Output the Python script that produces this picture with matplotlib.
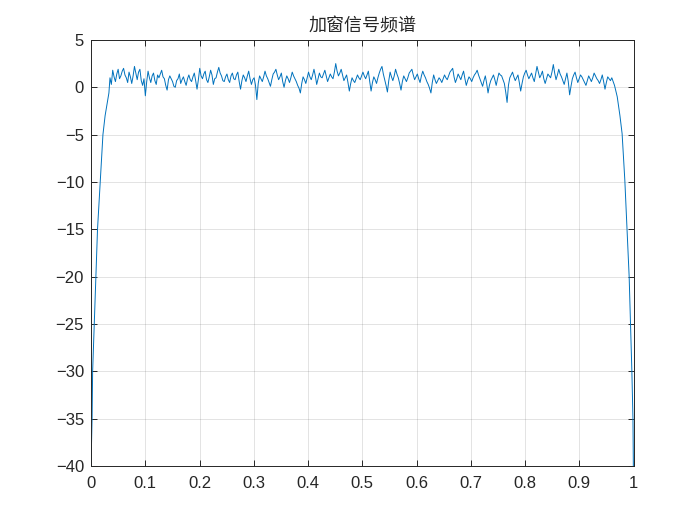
import numpy as np
import matplotlib
matplotlib.use("Agg")
import matplotlib.pyplot as plt

plt.rcParams['font.family'] = ['Liberation Sans', 'DejaVu Sans']

# rising edge at low frequencies (normalised freq, dB)
left_freq = [0.0, 0.002, 0.003, 0.006, 0.009, 0.012, 0.017, 0.022, 0.026, 0.029, 0.033]
left_db = [-40, -35, -30, -25, -20, -15, -10, -5, -3, -2, -0.6]

noise_db = [
    1.0, 0.3, 1.8, 1.1, 0.6, 1.4, 1.9, 0.9, 1.2, 1.7, 2.0, 1.3, 1.0, 0.5, 1.6, 1.1,
    0.4, 1.2, 2.2, 1.5, 0.8, 1.6, 1.9, 0.7, 0.2, 0.9, -0.9, 0.6, 1.7, 1.0, 0.5, 1.2,
    1.5, 0.7, 0.3, 1.3, 1.0, 1.4, 1.8, 1.1, 0.9, 0.2, -0.3, 0.8, 1.2, 0.9, 0.6, 0.1,
    0.0, 0.7, 0.9, 1.4, 0.4, 0.8, 1.1, 0.6, 0.2, 0.9, 1.3, 0.8, 0.6, 1.1, 1.5, 0.7,
    -0.2, 0.8, 2.0, 1.2, 0.9, 1.4, 1.7, 0.8, 0.5, 1.1, 1.8, 1.3, 0.3, 0.9, 1.0, 1.6,
    2.1, 1.5, 1.2, 0.7, 0.6, 1.1,
    1.4, 0.8, 0.5, 1.2, 1.5, 0.9, 0.8, 1.3, 1.6, 0.6, -0.2, 0.7, 1.3, 1.0, 0.6, 1.2,
    1.7, 0.9, 0.3, 0.8, 1.0, 0.2, -1.3, 0.4, 1.2, 0.9, 0.6, 1.1, 1.7, 1.2, 0.9, 0.5,
    0.1, 0.8, 1.4, 1.6, 1.9, 1.3, 0.8, 1.1, 1.5, 0.6, 0.0, 0.7, 1.2, 0.9, 0.5, 1.0,
    1.6, 1.2, 0.9, 0.6, 0.2, -0.1, -0.6, 0.4, 1.1, 0.8, 0.4, 1.0, 1.6, 1.1, 0.8, 1.3,
    1.9, 1.2, 0.3, 0.9, 1.5, 1.1, 1.0, 1.4, 1.8, 1.2, 0.6, 1.0, 1.4, 1.1, 0.9, 1.6,
    2.5, 1.7, 1.2, 1.5, 1.9, 1.3, 0.7, 1.0, 1.3, 0.5, -0.4, 0.4, 1.0, 0.7, 0.5, 0.9,
    1.3, 1.0, 0.8, 1.2,
    1.6, 1.2, 0.9, 1.3, 1.7, 0.6, -0.4, 0.5, 1.1, 0.8, 0.4, 1.0, 1.5, 1.9, 2.2, 1.4,
    0.8, 0.2, -0.5, 0.7, 1.6, 1.1, 0.7, 1.2, 1.9, 1.4, 1.0, 0.4, -0.3, 0.6, 1.2, 0.9,
    0.6, 1.0, 1.5, 1.7, 1.9, 1.3, 0.8, 1.1, 1.4, 0.9, 0.5, 1.2, 1.7, 1.3, 1.0, 0.6,
    0.3, -0.1, -0.6, 0.5, 1.3, 0.8, 0.4, 0.7, 1.0, 0.8, 0.5, 0.9, 1.3, 1.0, 0.8, 1.2,
    1.6, 1.8, 2.0, 1.1, 0.5, 0.9, 1.4, 1.1, 0.8, 1.3, 1.7, 0.9, 0.2, 0.7, 1.1, 0.9,
    0.6, 1.0, 1.3, 1.5, 1.8, 1.3, 0.9, 0.5, 0.1, 0.7, 1.2, 0.4, -0.6, 0.2, 0.7, 1.0,
    1.3, 0.8, 0.2, 0.9,
    1.5, 1.3, 1.2, 0.8, 0.4, -0.5, -1.6, 0.2, 1.0, 1.3, 1.6, 1.1, 0.7, 1.0, 1.3, 0.5,
    -0.4, 0.4, 1.1, 1.5, 1.8, 1.3, 0.9, 1.2, 1.5, 1.0, 0.6, 1.4, 2.2, 1.6, 1.0, 1.3,
    1.7, 0.9, 0.4, 0.9, 1.4, 1.2, 1.0, 1.6, 2.4, 1.5, 0.8, 1.3, 1.9, 1.4, 1.1, 0.7,
    0.3, 0.9, 1.5, 0.6, -0.8, 0.1, 0.9, 1.3, 1.6, 1.0, 0.5, 0.9, 1.3, 1.1, 0.8, 0.5,
    0.2, 0.7, 1.2, 0.9, 0.6, 1.0, 1.5, 1.2, 0.9, 0.7, 0.4, 0.8, 1.3, 0.6, -0.2, 0.5,
    1.1, 0.9, 0.7, 1.0, 0.6, 0.2,
]
noise_start, noise_end = 0.035, 0.965

# falling edge at high frequencies
right_freq = [0.97, 0.975, 0.979, 0.984, 0.988, 0.992, 0.9945, 0.997, 0.999, 1.0]
right_db = [-1.0, -3.0, -4.9, -9.8, -15, -20, -25, -30, -35, -42]

title = "加窗信号频谱"
xticks = [0, 0.1, 0.2, 0.3, 0.4, 0.5, 0.6, 0.7, 0.8, 0.9, 1]
xticklabels = ["0", "0.1", "0.2", "0.3", "0.4", "0.5", "0.6", "0.7", "0.8", "0.9", "1"]
yticks = [-40, -35, -30, -25, -20, -15, -10, -5, 0, 5]

noise_freq = np.linspace(noise_start, noise_end, len(noise_db))
freq = np.concatenate([left_freq, noise_freq, right_freq])
db = np.concatenate([left_db, noise_db, right_db])

fig = plt.figure(figsize=(7, 5.25), dpi=100)
ax = fig.add_axes([0.13, 0.112, 0.775, 0.812])
ax.plot(freq, db, color="#0072BD", linewidth=0.7)

ax.set_xlim(0, 1)
ax.set_ylim(-40, 5)
ax.set_xticks(xticks)
ax.set_xticklabels(xticklabels)
ax.set_yticks(yticks)
ax.grid(True, color="#262626", alpha=0.15, linewidth=0.6)
ax.set_axisbelow(True)

axis_col = "#262626"
for s in ax.spines.values():
    s.set_color(axis_col)
    s.set_linewidth(0.7)
ax.tick_params(direction="in", length=4, width=0.7, colors=axis_col,
               labelsize=12, top=True, right=True, labelcolor="#262626")
ax.tick_params(axis="x", pad=7)
ax.tick_params(axis="y", pad=5)

ax.set_title(title, family=["Noto Sans CJK SC", "DejaVu Sans"], fontsize=13,
             color="#262626", pad=6)

fig.savefig("out.png", dpi=100)
